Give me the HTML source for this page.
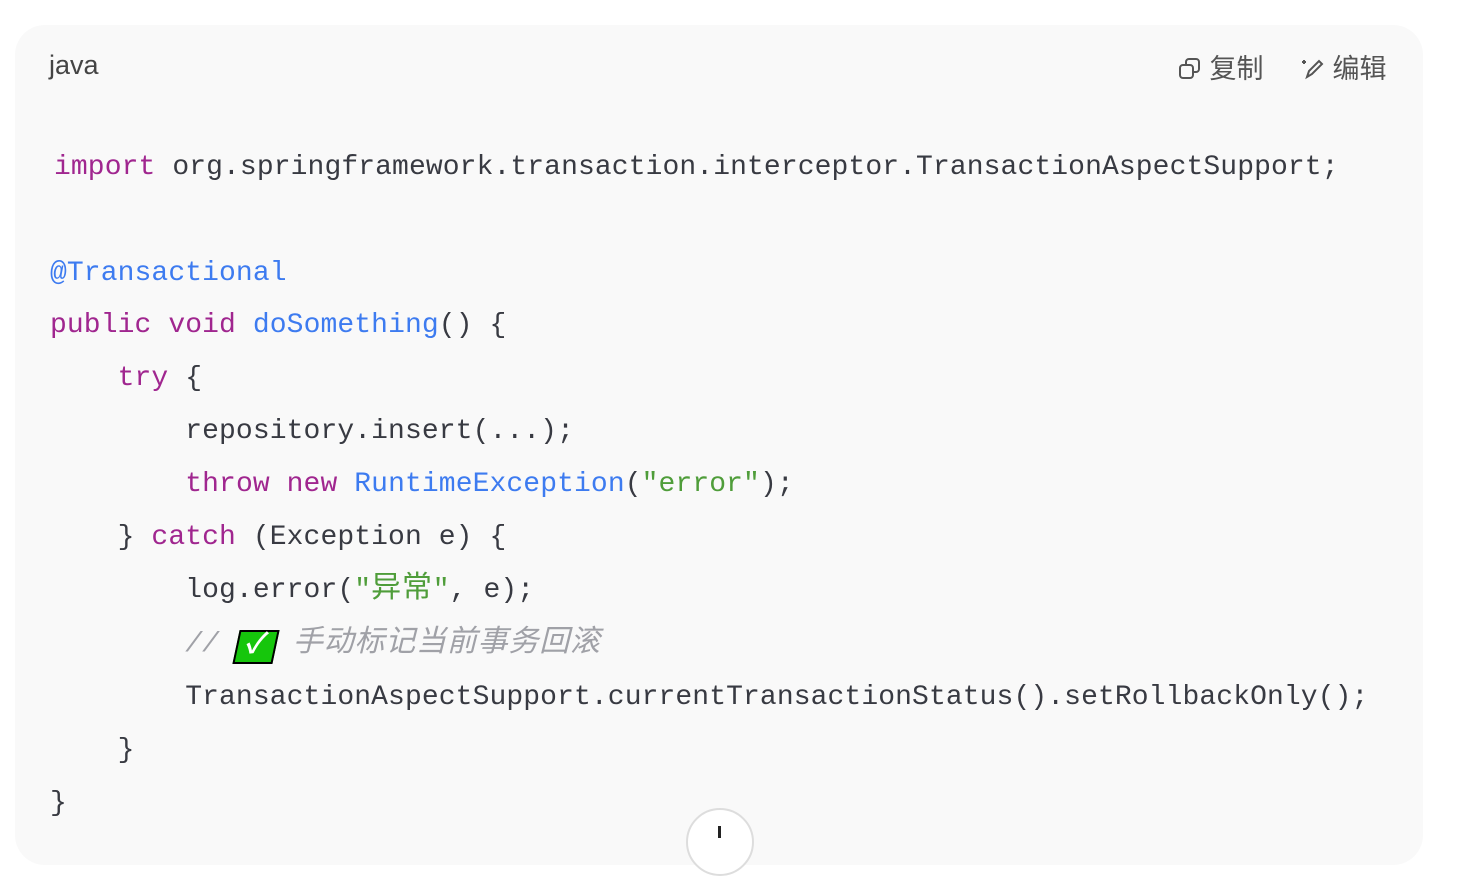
<!DOCTYPE html>
<html><head><meta charset="utf-8"><style>
html,body{margin:0;padding:0;background:#fff;width:1469px;height:835px;overflow:hidden}
.box{position:absolute;left:15px;top:25px;width:1408px;height:840px;background:#f9f9f9;border-radius:30px}
.lang{position:absolute;left:49px;top:50px;font:27px "Liberation Sans","Noto Sans CJK SC",sans-serif;color:#444}
.act{position:absolute;top:47px;font:27px "Liberation Sans","Noto Sans CJK SC",sans-serif;color:#555}
pre{position:absolute;left:50px;top:142px;margin:0;font:28px/52.8px "Liberation Mono","Noto Sans CJK SC",monospace;color:#383a42;letter-spacing:0.1px}
.k{color:#a0268f}.f{color:#3d7bf0}.s{color:#4f9d3a}.c{color:#a0a1a7;font-style:italic}
.cj{font-size:30px;letter-spacing:0.8px}
.chk{display:inline-block;width:40px;height:34px;background:#16c60c;border:2.5px solid #000;vertical-align:-2px;transform:skewX(-12deg);color:#fff;font-style:normal;text-align:center;line-height:30px;font-size:28px;box-sizing:border-box;font-weight:bold}
.circ{position:absolute;left:686px;top:808px;width:64px;height:64px;border-radius:50%;background:#fff;border:2px solid #ddd}
.circ:after{content:"";position:absolute;left:30px;top:16px;width:3px;height:12px;background:#222}
</style></head><body>
<div class="box"></div>
<div class="lang">java</div>
<div class="act" style="left:1178px"><svg width="24" height="24" viewBox="0 0 24 24" style="vertical-align:-3px" fill="none" stroke="#555" stroke-width="2"><rect x="2" y="8" width="13" height="13" rx="3"/><path d="M8 8V5a3 3 0 0 1 3-3h7a3 3 0 0 1 3 3v7a3 3 0 0 1-3 3h-3"/></svg> 复制</div>
<div class="act" style="left:1301px"><svg width="24" height="24" viewBox="0 0 24 24" style="vertical-align:-3px" fill="none" stroke="#555" stroke-width="2"><path d="M6 20l2-6L18 4l3 3-10 10z"/><path d="M3 3v4M1 5h4"/></svg> 编辑</div>
<pre><span class="k" style="margin-left:4px">import</span> org.springframework.transaction.interceptor.TransactionAspectSupport;

<span class="f">@Transactional</span>
<span class="k">public</span> <span class="k">void</span> <span class="f">doSomething</span>() {
    <span class="k">try</span> {
        repository.insert(...);
        <span class="k">throw</span> <span class="k">new</span> <span class="f">RuntimeException</span>(<span class="s">"error"</span>);
    } <span class="k">catch</span> (Exception e) {
        log.error(<span class="s">"<span class="cj">异常</span>"</span>, e);
        <span class="c">// <span class="chk">✓</span> <span class="cj">手动标记当前事务回滚</span></span>
        TransactionAspectSupport.currentTransactionStatus().setRollbackOnly();
    }
}</pre>
<div class="circ"></div>
</body></html>
